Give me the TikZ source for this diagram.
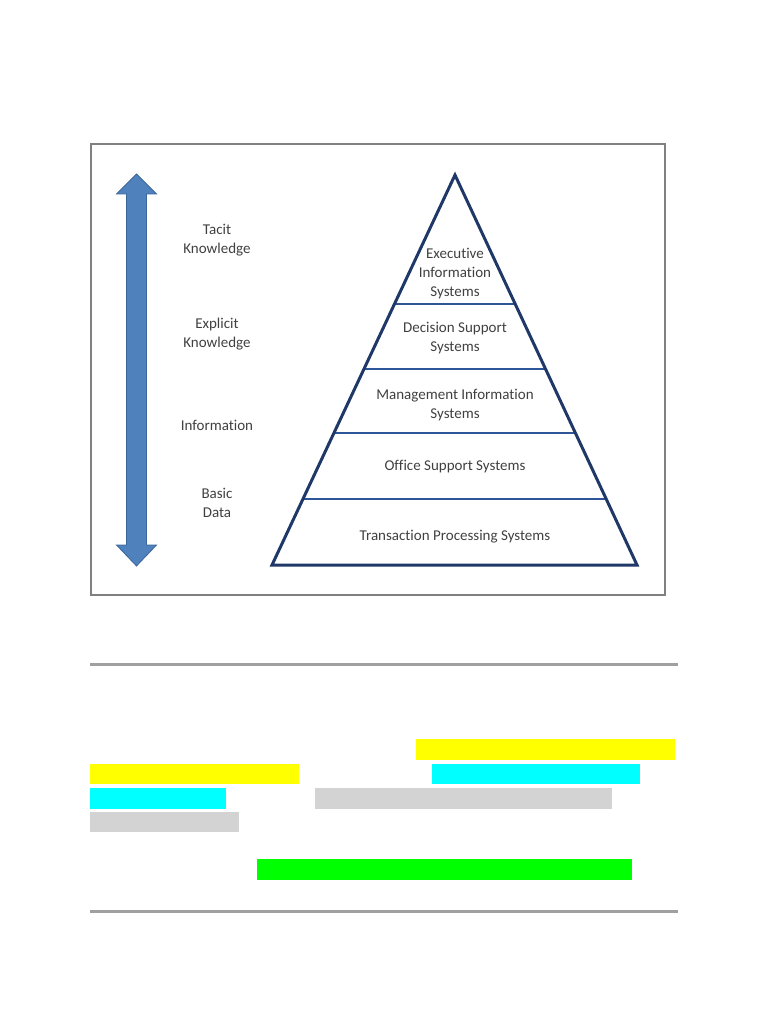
\documentclass[tikz,border=0pt]{standalone}
\usepackage{fontspec}
\setmainfont[Ligatures=NoCommon]{Carlito}
\usepackage{xcolor}
\usepackage{tikz}
\usetikzlibrary{positioning,calc}

\definecolor{arrowblue}{HTML}{4F81BD}
\definecolor{arrowedge}{HTML}{3B6699}
\definecolor{pyrnavy}{HTML}{1F3868}
\definecolor{layerblue}{HTML}{2E5597}
\definecolor{labelgray}{HTML}{404040}
\definecolor{rulegray}{HTML}{A0A0A0}
\definecolor{markgray}{RGB}{211,211,211}
\definecolor{markyellow}{RGB}{255,255,0}
\definecolor{markcyan}{RGB}{0,255,255}
\definecolor{markgreen}{RGB}{0,255,0}

\begin{document}
\begin{tikzpicture}[x=1pt,y=-1pt,
    txt/.style={align=center,text=labelgray,inner sep=0pt,font=\fontsize{15}{19}\selectfont},
    layer/.style={draw=layerblue,line width=2.2pt}]
            \useasboundingbox (0,0) rectangle (768,1024);

            % Frame
            \draw[gray,line width=1.2pt] (91,144) rectangle (665,595);

            % Double arrow
            \draw[fill=arrowblue,draw=arrowedge,line width=0.8pt]
                (136.5,174) -- (156.5,194) -- (146.5,194) -- (146.5,545)
                -- (156.5,545) -- (136.5,566) -- (116.5,545) -- (126.5,545)
                -- (126.5,194) -- (116.5,194) -- cycle;

            % Knowledge levels
            \node[txt] (tacit) at (217,240.5) {Tacit\\Knowledge};
            \node[txt] (explicit) at (217,334) {Explicit\\Knowledge};
            \node[txt] (info) at (217,425) {Information};
            \node[txt] (basic) at (217,503) {Basic\\Data};

            % Pyramid
            \coordinate (apex) at (455,175);
            \coordinate (bl) at (272,565);
            \coordinate (br) at (637,565);
            \draw[layer] ($(apex)!0.3308!(bl)$) -- ($(apex)!0.3308!(br)$);
            \draw[layer] ($(apex)!0.4974!(bl)$) -- ($(apex)!0.4974!(br)$);
            \draw[layer] ($(apex)!0.6615!(bl)$) -- ($(apex)!0.6615!(br)$);
            \draw[layer] ($(apex)!0.8308!(bl)$) -- ($(apex)!0.8308!(br)$);
            \draw[pyrnavy,line width=3pt,line join=miter] (apex) -- (br) -- (bl) -- cycle;

            % Systems
            \node[txt] (eis) at (455,274) {Executive\\Information\\Systems};
            \node[txt] (dss) at (455,338.5) {Decision Support\\Systems};
            \node[txt] (mis) at (455,405) {Management Information\\Systems};
            \node[txt] (oss) at (455,467) {Office Support Systems};
            \node[txt] (tps) at (455,537) {Transaction Processing Systems};

            % Rules
            \draw[rulegray,line width=3pt] (90,664) -- (678,664);
            \draw[rulegray,line width=3pt] (90,911) -- (678,911);

            % Highlights
            \fill[markyellow] (416,739) rectangle (675,760);
            \fill[markyellow] (90,764) rectangle (299,784);
            \fill[markcyan] (431.5,764) rectangle (640,784);
            \fill[markcyan] (90,787.5) rectangle (226,808.5);
            \fill[markgray] (315,787.5) rectangle (612,808.5);
            \fill[markgray] (90,811.5) rectangle (239,832);
            \fill[markgreen] (257,859) rectangle (632,880);
        \end{tikzpicture}
\end{document}
